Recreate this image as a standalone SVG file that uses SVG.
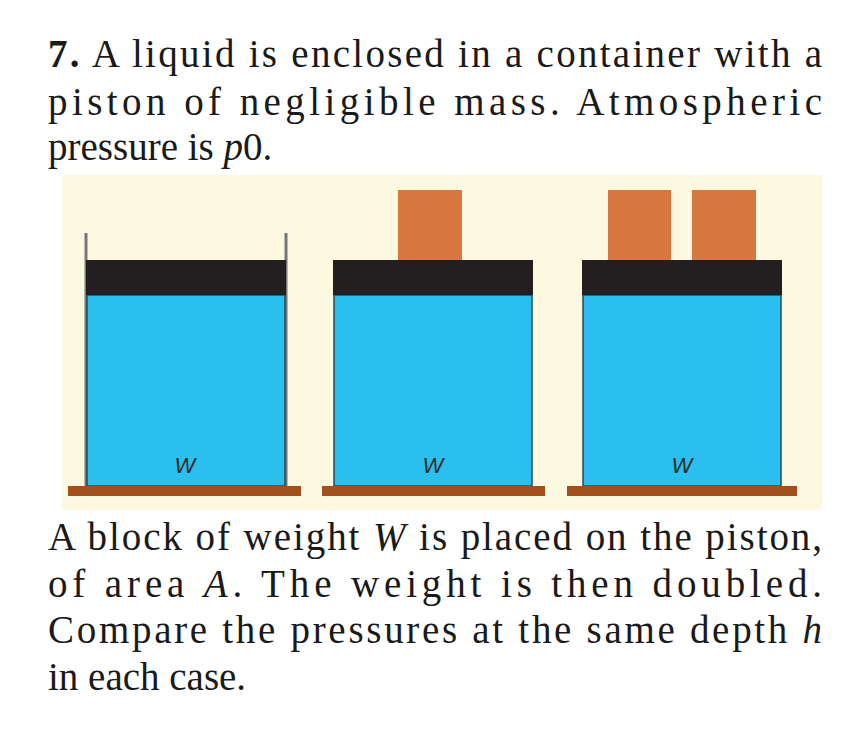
<svg xmlns="http://www.w3.org/2000/svg" width="854" height="732" viewBox="0 0 854 732">
<style>
.t{font-family:"Liberation Serif",serif;font-size:39px;fill:#1a1a1a}
.liq{fill:#2bbfef;stroke:#2a4a55;stroke-width:1.5}
.pis{fill:#231f20}
.blk{fill:#d87640}
.base{fill:#a4501a}
.w{font-family:"Liberation Sans",sans-serif;font-style:italic;font-size:22px;fill:#2a2a2a}
</style>
<rect x="0" y="0" width="854" height="732" fill="#fff"/>
<text class="t" x="48" y="67" textLength="774" lengthAdjust="spacing"><tspan font-weight="bold">7.</tspan> A liquid is enclosed in a container with a</text>
<text class="t" x="48" y="115" textLength="774" lengthAdjust="spacing">piston of negligible mass. Atmospheric</text>
<text class="t" x="48" y="160">pressure is <tspan font-style="italic">p</tspan>0.</text>
<rect x="62" y="175" width="760" height="335" fill="#fdf9e1"/>
<g id="c1">
<line x1="86" y1="233" x2="86" y2="486" stroke="#777" stroke-width="3"/>
<line x1="286" y1="233" x2="286" y2="486" stroke="#777" stroke-width="3"/>
<rect class="liq" x="87" y="295" width="198" height="191"/>
<rect class="pis" x="86" y="260" width="200" height="35"/>
<rect class="base" x="68" y="486" width="233" height="10"/>
<text class="w" x="185" y="473" text-anchor="middle">W</text>
</g>
<g id="c2">
<rect class="blk" x="398" y="190" width="64" height="70"/>
<rect class="liq" x="334" y="295" width="198" height="191"/>
<rect class="pis" x="333" y="260" width="200" height="35"/>
<rect class="base" x="322" y="486" width="223" height="10"/>
<text class="w" x="433" y="473" text-anchor="middle">W</text>
</g>
<g id="c3">
<rect class="blk" x="608" y="190" width="63" height="70"/>
<rect class="blk" x="692" y="190" width="64" height="70"/>
<rect class="liq" x="583" y="295" width="198" height="191"/>
<rect class="pis" x="582" y="260" width="200" height="35"/>
<rect class="base" x="567" y="486" width="230" height="10"/>
<text class="w" x="682" y="473" text-anchor="middle">W</text>
</g>
<text class="t" x="48" y="550" textLength="774" lengthAdjust="spacing">A block of weight <tspan font-style="italic">W</tspan> is placed on the piston,</text>
<text class="t" x="48" y="597" textLength="774" lengthAdjust="spacing">of area <tspan font-style="italic">A</tspan>. The weight is then doubled.</text>
<text class="t" x="48" y="643" textLength="774" lengthAdjust="spacing">Compare the pressures at the same depth <tspan font-style="italic">h</tspan></text>
<text class="t" x="48" y="690">in each case.</text>
</svg>
